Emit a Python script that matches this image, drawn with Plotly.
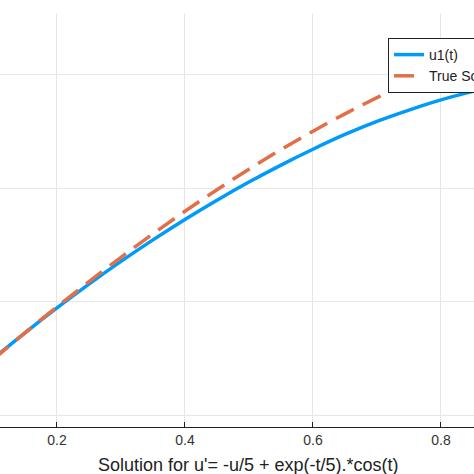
import plotly.graph_objects as go

# values
t = [0.10, 0.15, 0.20, 0.25, 0.30, 0.35, 0.40, 0.45, 0.50, 0.55,
     0.60, 0.65, 0.70, 0.75, 0.80, 0.85, 0.90]
u1 = [0.099, 0.145, 0.189, 0.231, 0.271, 0.309, 0.345, 0.379, 0.411, 0.441,
      0.469, 0.495, 0.518, 0.538, 0.556, 0.571, 0.584]
u_true = [0.0979, 0.1450, 0.1909, 0.2353, 0.2783, 0.3197, 0.3595, 0.3975, 0.4338, 0.4683,
          0.5008, 0.5314, 0.5601, 0.5867, 0.6113, 0.6339, 0.6543]

x_ticks = [0.2, 0.4, 0.6, 0.8]
x_labels = ["0.2", "0.4", "0.6", "0.8"]
y_ticks = [0.0, 0.2, 0.4, 0.6]

fig = go.Figure()
fig.add_trace(go.Scatter(x=t, y=u1, mode="lines", name="u1(t)",
                         line=dict(color="#009AFA", width=3.5, shape="spline")))
fig.add_trace(go.Scatter(x=t, y=u_true, mode="lines", name="True Solution",
                         line=dict(color="#E36F47", width=3.5, dash="20px,10px", shape="spline")))

fig.update_xaxes(range=[0.111, 0.8516], tickvals=x_ticks, ticktext=x_labels,
                 showgrid=True, gridcolor="#e6e6e6", gridwidth=1,
                 showline=True, linecolor="#222", linewidth=1,
                 ticks="inside", ticklen=5, tickcolor="#222",
                 tickfont=dict(family="Liberation Sans", size=14, color="#333"),
                 zeroline=False)
fig.update_yaxes(range=[-0.0211, 0.7093], tickvals=y_ticks, showticklabels=False,
                 showgrid=True, gridcolor="#e6e6e6", gridwidth=1,
                 showline=False, zeroline=False)

fig.add_annotation(text="Solution for u'= -u/5 + exp(-t/5).*cos(t)",
                   xref="paper", yref="paper", x=0.525, y=-0.092,
                   xanchor="center", yanchor="middle", showarrow=False,
                   font=dict(family="Liberation Sans", size=18, color="#222"))

fig.update_layout(
    width=474, height=474,
    margin=dict(l=0, r=0, t=13, b=47, autoexpand=False),
    plot_bgcolor="white", paper_bgcolor="white",
    showlegend=True,
    legend=dict(x=0.8186, y=0.9396, xanchor="left", yanchor="top",
                bgcolor="white", bordercolor="#222", borderwidth=1,
                font=dict(family="Liberation Sans", size=14, color="#222"),
                tracegroupgap=0),
)

# page body has an 8px margin by default, drop it so the figure fills the window
fig.write_html("out.html", config={"displayModeBar": False},
               post_script="document.body.style.margin='0';")
